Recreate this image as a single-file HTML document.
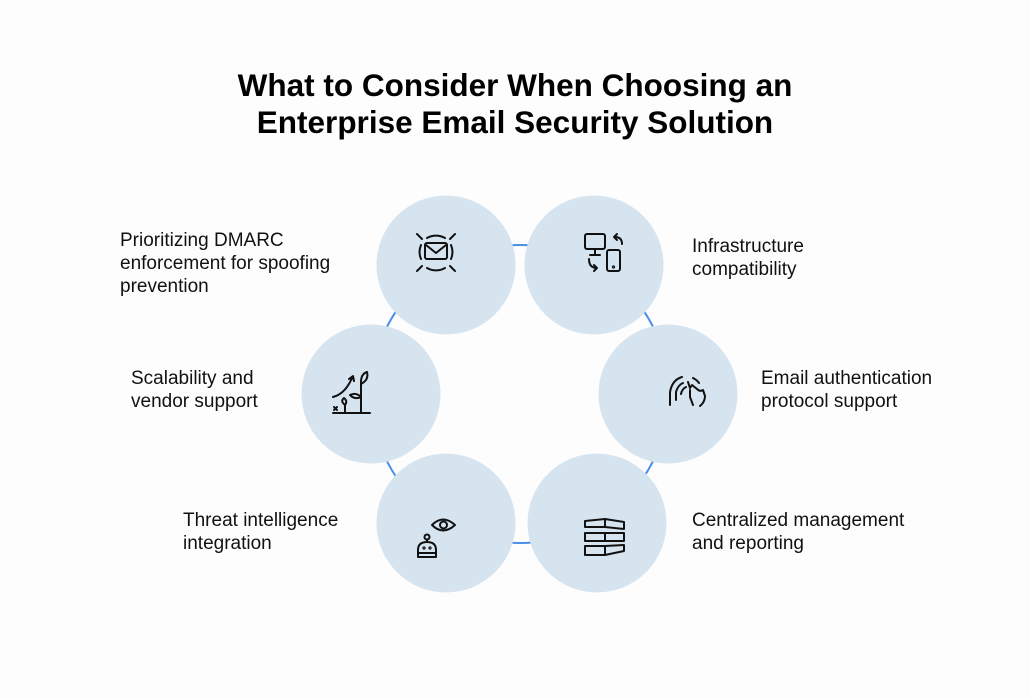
<!DOCTYPE html>
<html><head><meta charset="utf-8"><style>
html,body{margin:0;padding:0;background:#fdfdfe;}
body{width:1030px;height:699px;position:relative;overflow:hidden;font-family:"Liberation Sans",sans-serif;color:#111;}
.t{position:absolute;left:0;width:1030px;text-align:center;font-weight:bold;font-size:31.5px;line-height:37px;top:67px;color:#000;}
.l{position:absolute;font-size:19px;line-height:23px;color:#111;}
svg{position:absolute;left:0;top:0;}
</style></head><body>
<svg width="1030" height="699" viewBox="0 0 1030 699">
<circle cx="520" cy="394" r="149" fill="none" stroke="#4a8fe6" stroke-width="2"/>
<g fill="#d6e4f0">
<circle cx="446" cy="265" r="69.5"/>
<circle cx="594" cy="265" r="69.5"/>
<circle cx="668" cy="394" r="69.5"/>
<circle cx="597" cy="523" r="69.5"/>
<circle cx="446" cy="523" r="69.5"/>
<circle cx="371" cy="394" r="69.5"/>
</g>
<g fill="none" stroke="#111" stroke-width="2" stroke-linecap="round" stroke-linejoin="round">
<rect x="425" y="243" width="22" height="16" rx="2"/>
<path d="M426 245 L436 253 L446 245"/>
<path d="M421 245 A18 18 0 0 0 421 259 M451 245 A18 18 0 0 1 451 259"/>
<path d="M427 238 A18 18 0 0 1 445 238 M427 268 A18 18 0 0 0 445 268"/>
<path d="M417 234 L422 239 M455 234 L450 239 M417 271 L422 266 M455 271 L450 266"/>
<rect x="585" y="234" width="20" height="15" rx="2"/>
<path d="M595 249 V254 M590 255 H600"/>
<rect x="607" y="250" width="13" height="21" rx="2"/>
<circle cx="613.5" cy="267" r="0.6"/>
<path d="M622 244 Q622 237 615 237 M617 234 L614 237 L617 240"/>
<path d="M589 259 Q589 268 597 268 M594 265 L597 268 L594 271"/>
<path d="M670 405 V392 Q672 380 682 377 M676 400 V392 Q678 385 683 383 M681 394 Q682 389 686 387"/>
<path d="M693 378 Q697 380 699 383 M688 382 L690 388 L692 385 L697 389 Q700 392 703 390 L705 396 Q705 402 700 406 M693 405 L690 397 L690 390"/>
<path d="M333 413 H370 M334 410 L337 407 M334 407 L337 410"/>
<path d="M361 413 V382 Q361 374 367 372 Q369 380 361 384"/>
<path d="M361 397 Q356 392 350 395 Q355 400 361 397"/>
<path d="M345 413 V405 Q340 401 344 398 Q348 401 345 405"/>
<path d="M333 397 Q345 394 352 378 M349 379 L353 376 L354 381"/>
<path d="M432 525 Q443 514 455 525 Q443 536 432 525 Z"/>
<circle cx="443.5" cy="525" r="3.5"/>
<circle cx="427" cy="537" r="2.5"/>
<path d="M427 540 V542 M418 557 V550 Q418 542 427 542 Q436 542 436 550 V557 Z M418 553 H436"/>
<circle cx="424" cy="548" r="0.6"/><circle cx="430" cy="548" r="0.6"/>
<path d="M585 521 L605 519 L624 522 L624 529 L605 527 L585 527 Z M605 519 V527"/>
<path d="M585 533 H624 V541 H585 Z M605 533 V541"/>
<path d="M585 546 L605 546 L624 545 L624 551 L605 555 L585 555 Z M605 546 V555"/>
</g>
</svg>
<div class="t">What to Consider When Choosing an<br>Enterprise Email Security Solution</div>
<div class="l" style="left:120px;top:229px">Prioritizing DMARC<br>enforcement for spoofing<br>prevention</div>
<div class="l" style="left:692px;top:235px">Infrastructure<br>compatibility</div>
<div class="l" style="left:131px;top:367px">Scalability and<br>vendor support</div>
<div class="l" style="left:761px;top:367px">Email authentication<br>protocol support</div>
<div class="l" style="left:183px;top:509px">Threat intelligence<br>integration</div>
<div class="l" style="left:692px;top:509px">Centralized management<br>and reporting</div>
</body></html>
